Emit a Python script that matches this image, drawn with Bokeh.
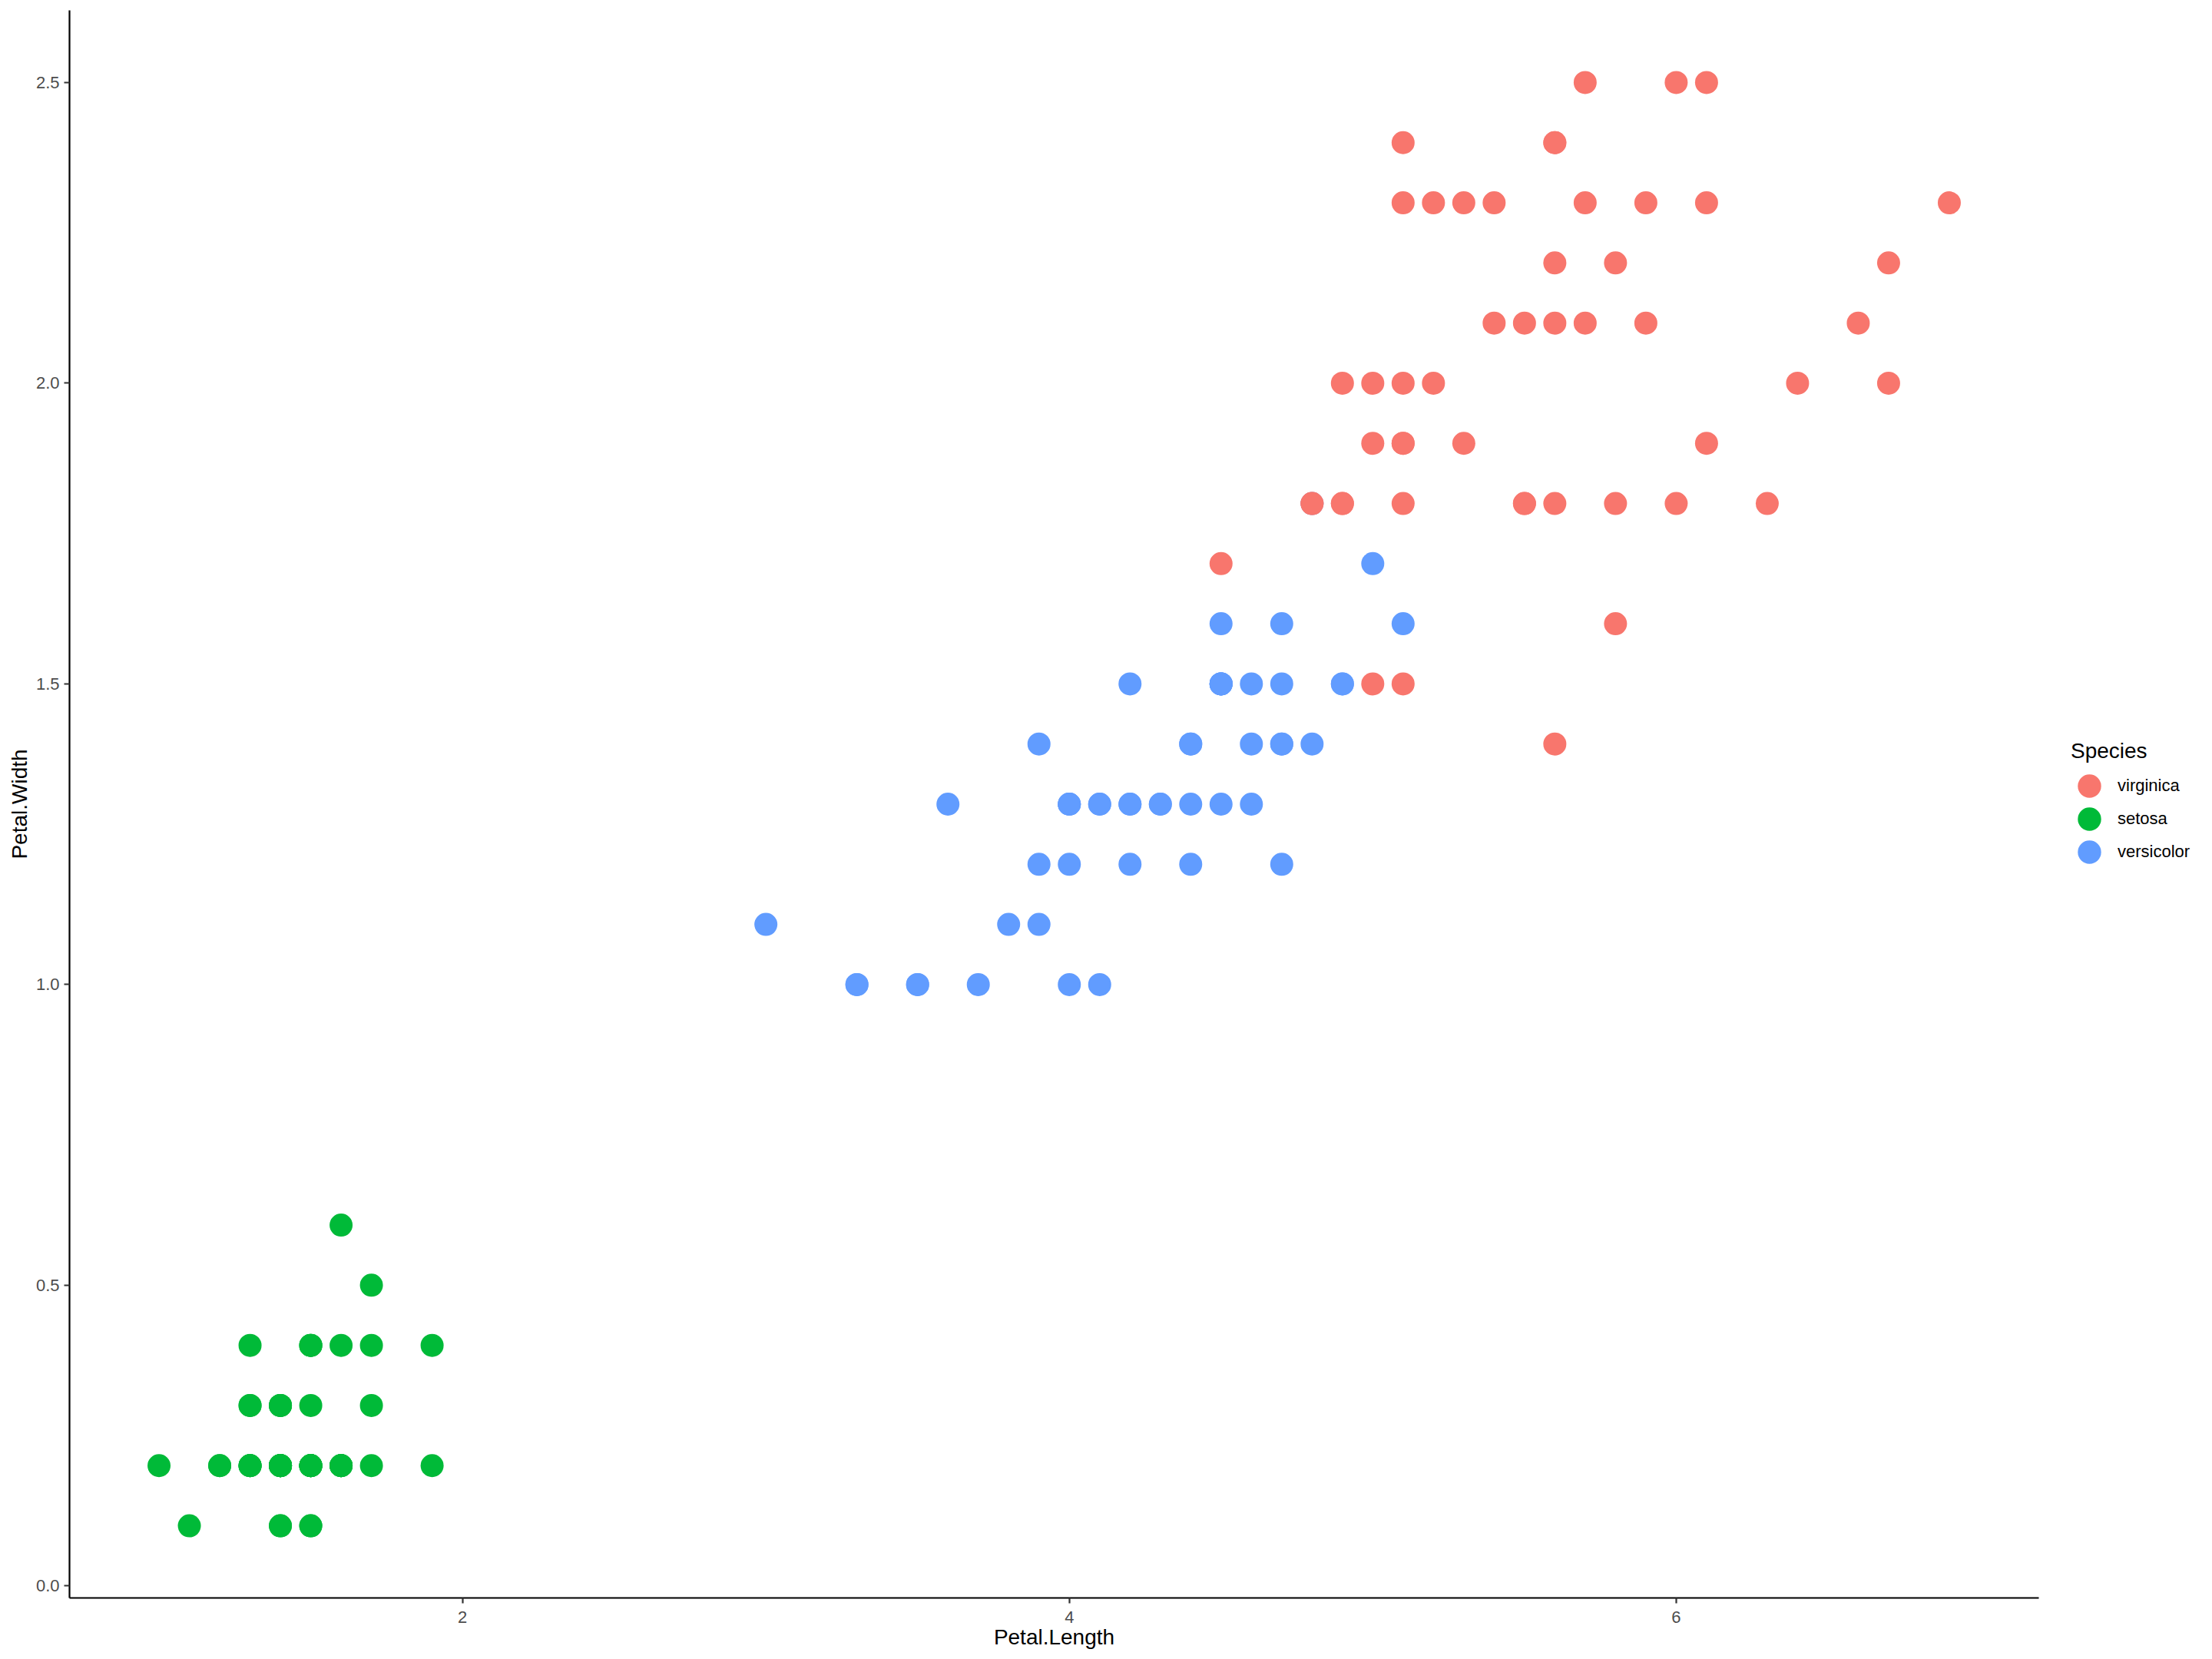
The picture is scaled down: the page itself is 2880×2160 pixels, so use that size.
from bokeh.plotting import figure
from bokeh.models import Range1d, FixedTicker, Legend, LegendItem, NumeralTickFormatter
from bokeh.embed import file_html
from bokeh.resources import INLINE

species = ["virginica", "setosa", "versicolor"]
colors = ["#F8766D", "#00BA38", "#619CFF"]

setosa_length = [1.4, 1.4, 1.3, 1.5, 1.4, 1.7, 1.4, 1.5, 1.4, 1.5, 1.5, 1.6, 1.4, 1.1, 1.2, 1.5, 1.3, 1.4, 1.7, 1.5,
                 1.7, 1.5, 1.0, 1.7, 1.9, 1.6, 1.6, 1.5, 1.4, 1.6, 1.6, 1.5, 1.5, 1.4, 1.5, 1.2, 1.3, 1.4, 1.3, 1.5,
                 1.3, 1.3, 1.3, 1.6, 1.9, 1.4, 1.6, 1.4, 1.5, 1.4]
setosa_width = [0.2, 0.2, 0.2, 0.2, 0.2, 0.4, 0.3, 0.2, 0.2, 0.1, 0.2, 0.2, 0.1, 0.1, 0.2, 0.4, 0.4, 0.3, 0.3, 0.3,
                0.2, 0.4, 0.2, 0.5, 0.2, 0.2, 0.4, 0.2, 0.2, 0.2, 0.2, 0.4, 0.1, 0.2, 0.2, 0.2, 0.2, 0.1, 0.2, 0.2,
                0.3, 0.3, 0.2, 0.6, 0.4, 0.3, 0.2, 0.2, 0.2, 0.2]

versicolor_length = [4.7, 4.5, 4.9, 4.0, 4.6, 4.5, 4.7, 3.3, 4.6, 3.9, 3.5, 4.2, 4.0, 4.7, 3.6, 4.4, 4.5, 4.1, 4.5, 3.9,
                     4.8, 4.0, 4.9, 4.7, 4.3, 4.4, 4.8, 5.0, 4.5, 3.5, 3.8, 3.7, 3.9, 5.1, 4.5, 4.5, 4.7, 4.4, 4.1, 4.0,
                     4.4, 4.6, 4.0, 3.3, 4.2, 4.2, 4.2, 4.3, 3.0, 4.1]
versicolor_width = [1.4, 1.5, 1.5, 1.3, 1.5, 1.3, 1.6, 1.0, 1.3, 1.4, 1.0, 1.5, 1.0, 1.4, 1.3, 1.4, 1.5, 1.0, 1.5, 1.1,
                    1.8, 1.3, 1.5, 1.2, 1.3, 1.4, 1.4, 1.7, 1.5, 1.0, 1.1, 1.0, 1.2, 1.6, 1.5, 1.6, 1.5, 1.3, 1.3, 1.3,
                    1.2, 1.4, 1.2, 1.0, 1.3, 1.2, 1.3, 1.3, 1.1, 1.3]

virginica_length = [6.0, 5.1, 5.9, 5.6, 5.8, 6.6, 4.5, 6.3, 5.8, 6.1, 5.1, 5.3, 5.5, 5.0, 5.1, 5.3, 5.5, 6.7, 6.9, 5.0,
                    5.7, 4.9, 6.7, 4.9, 5.7, 6.0, 4.8, 4.9, 5.6, 5.8, 6.1, 6.4, 5.6, 5.1, 5.6, 6.1, 5.6, 5.5, 4.8, 5.4,
                    5.6, 5.1, 5.1, 5.9, 5.7, 5.2, 5.0, 5.2, 5.4, 5.1]
virginica_width = [2.5, 1.9, 2.1, 1.8, 2.2, 2.1, 1.7, 1.8, 1.8, 2.5, 2.0, 1.9, 2.1, 2.0, 2.4, 2.3, 1.8, 2.2, 2.3, 1.5,
                   2.3, 2.0, 2.0, 1.8, 2.1, 1.8, 1.8, 1.8, 2.1, 1.6, 1.9, 2.0, 2.2, 1.5, 1.4, 2.3, 2.4, 1.8, 1.8, 2.1,
                   2.4, 2.3, 1.9, 2.3, 2.5, 2.3, 1.9, 2.0, 2.3, 1.8]

x_ticks = [2, 4, 6]
y_ticks = [0.0, 0.5, 1.0, 1.5, 2.0, 2.5]

FONT = "Liberation Sans"

all_x = setosa_length + versicolor_length + virginica_length
all_y = setosa_width + versicolor_width + virginica_width
xpad = (max(all_x) - min(all_x)) * 0.05
ypad = (max(all_y) - min(all_y)) * 0.05

p = figure(frame_width=2564, frame_height=2067, output_backend="svg", toolbar_location=None,
           x_range=Range1d(min(all_x) - xpad, max(all_x) + xpad),
           y_range=Range1d(min(all_y) - ypad, max(all_y) + ypad),
           min_border_left=90, min_border_right=210, min_border_top=13, min_border_bottom=70)
p.outline_line_color = None
p.xgrid.visible = False
p.ygrid.visible = False
p.background_fill_color = "white"
p.border_fill_color = "white"

# draw in data row order: setosa, versicolor, virginica
series = {
    "setosa": (setosa_length, setosa_width),
    "versicolor": (versicolor_length, versicolor_width),
    "virginica": (virginica_length, virginica_width),
}
renderers = {}
for name in ["setosa", "versicolor", "virginica"]:
    xs, ys = series[name]
    col = colors[species.index(name)]
    renderers[name] = p.ellipse(xs, ys, width=30, height=30, width_units="screen", height_units="screen",
                                fill_color=col, line_color=None)

for ax in (p.xaxis[0], p.yaxis[0]):
    ax.axis_line_color = "black"
    ax.axis_line_width = 2.2
    ax.major_tick_line_color = "#333333"
    ax.major_tick_line_width = 2.2
    ax.major_tick_out = 7
    ax.major_tick_in = 0
    ax.minor_tick_line_color = None
    ax.major_label_text_font = FONT
    ax.major_label_text_font_size = "22px"
    ax.major_label_text_color = "#4D4D4D"
    ax.axis_label_text_font = FONT
    ax.axis_label_text_font_size = "28px"
    ax.axis_label_text_font_style = "normal"
    ax.axis_label_text_color = "black"

p.xaxis[0].ticker = FixedTicker(ticks=x_ticks)
p.yaxis[0].ticker = FixedTicker(ticks=y_ticks)
p.yaxis[0].formatter = NumeralTickFormatter(format="0.0")
p.xaxis[0].axis_label = "Petal.Length"
p.yaxis[0].axis_label = "Petal.Width"
p.xaxis[0].major_label_standoff = 10
p.yaxis[0].major_label_standoff = 6
p.xaxis[0].axis_label_standoff = 0
p.yaxis[0].axis_label_standoff = 3

legend = Legend(items=[LegendItem(label=n, renderers=[renderers[n]]) for n in species],
                location=(42, 952), title="Species",
                title_text_font=FONT, title_text_font_size="28px", title_text_font_style="normal",
                title_text_color="black", title_standoff=10,
                label_text_font=FONT, label_text_font_size="22px", label_text_color="black",
                glyph_width=48, glyph_height=38, spacing=5, label_standoff=13,
                padding=0, margin=0, border_line_color=None, background_fill_color=None)
p.add_layout(legend, "right")

open("out.html", "w").write(file_html(p, INLINE))
